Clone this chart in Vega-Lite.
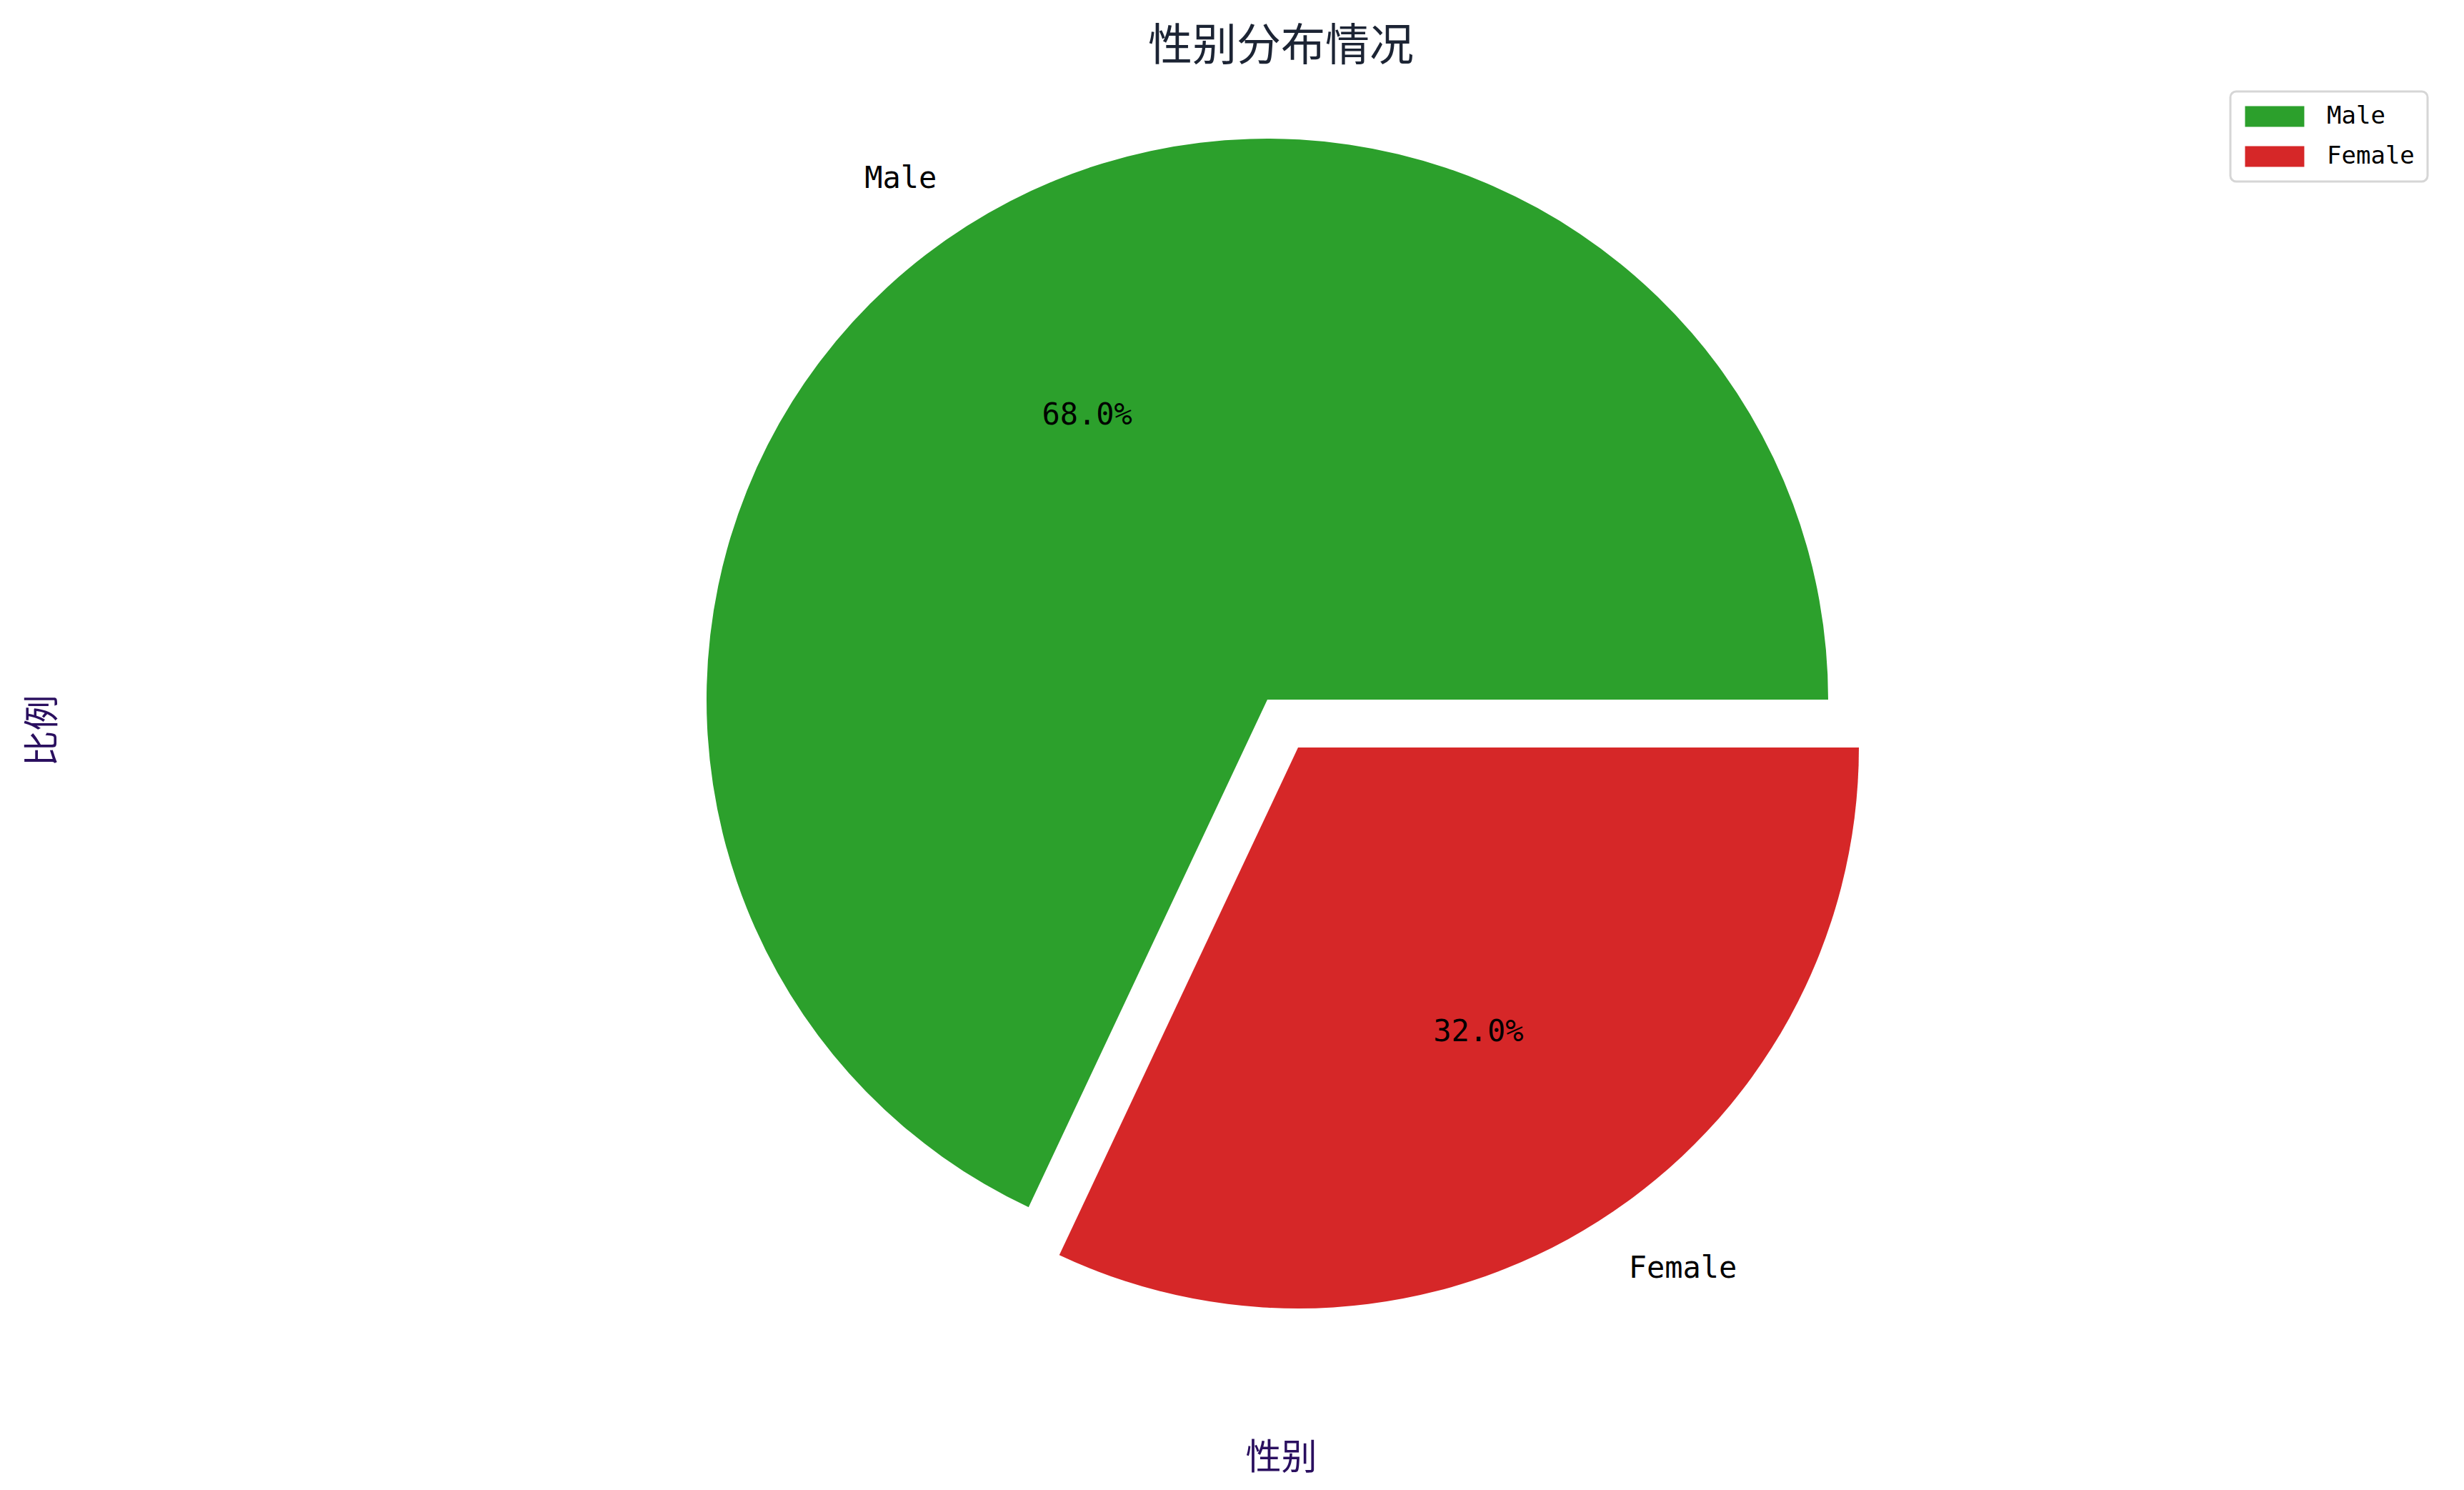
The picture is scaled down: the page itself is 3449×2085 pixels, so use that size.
{
  "$schema": "https://vega.github.io/schema/vega-lite/v6.json",
  "autosize": {"type": "none"},
  "width": 3286,
  "height": 1850,
  "padding": {"left": 150, "top": 97, "right": 13, "bottom": 138},
  "background": "white",
  "config": {
    "view": {"stroke": null},
    "font": "Noto Sans CJK SC",
    "legend": {"strokeWidth": 3}
  },
  "title": {
    "text": "性别分布情况",
    "font": "Noto Sans CJK SC",
    "fontSize": 62,
    "fontWeight": "normal",
    "color": "#1c2434",
    "anchor": "middle",
    "frame": "group",
    "baseline": "alphabetic",
    "offset": -50
  },
  "data": {
    "values": [
      {"Gender": "Male", "Percentage": 0.68},
      {"Gender": "Female", "Percentage": 0.32}
    ]
  },
  "encoding": {
    "theta": {"field": "Percentage", "type": "quantitative", "stack": true, "scale": {"range": [1.5707963, -4.712389]}},
    "order": {"field": "Gender", "sort": "descending"}
  },
  "layer": [
    {
      "mark": {"type": "point", "opacity": 0},
      "encoding": {
        "theta": null,
        "order": null,
        "x": {"field": "Gender", "type": "nominal", "axis": {"title": "性别", "labels": false, "ticks": false, "domain": false, "grid": false, "titleFont": "Noto Sans CJK SC", "titleFontSize": 50, "titleFontWeight": "normal", "titleColor": "#2a0f5f", "titlePadding": 68}},
        "y": {"field": "Percentage", "type": "quantitative", "axis": {"title": "比例", "labels": false, "ticks": false, "domain": false, "grid": false, "titleFont": "Noto Sans CJK SC", "titleFontSize": 50, "titleFontWeight": "normal", "titleColor": "#2a0f5f", "titlePadding": 65}}
      }
    },
    {
      "mark": {"type": "arc", "xOffset": -19, "yOffset": -43, "outerRadius": 785},
      "encoding": {
        "color": {
          "field": "Gender", "type": "nominal",
          "scale": {"domain": ["Male", "Female"], "range": ["#2ca02c", "#d62728"]},
          "legend": {
            "title": null, "orient": "none", "legendX": 2972, "legendY": 31,
            "symbolType": "M-1,-1H4.72V1H-1Z", "symbolSize": 841, "symbolStrokeWidth": 0,
            "labelFont": "DejaVu Sans Mono", "labelFontSize": 34, "labelColor": "black", "labelOffset": 83,
            "padding": 18, "rowPadding": 22, "strokeColor": "#d6d6d6", "fillColor": "white", "cornerRadius": 8
          }
        },
        "opacity": {"condition": {"test": "datum.Gender === 'Male'", "value": 1}, "value": 0}
      }
    },
    {
      "mark": {"type": "arc", "xOffset": 24, "yOffset": 24, "outerRadius": 785},
      "encoding": {
        "color": {"field": "Gender", "type": "nominal", "scale": {"domain": ["Male", "Female"], "range": ["#2ca02c", "#d62728"]}},
        "opacity": {"condition": {"test": "datum.Gender === 'Female'", "value": 1}, "value": 0}
      }
    },
    {
      "mark": {"type": "text", "xOffset": -19, "yOffset": -43, "align": "right", "baseline": "middle", "font": "DejaVu Sans Mono", "fontSize": 42, "color": "black"},
      "encoding": {
        "radius": {"value": 863.5},
        "text": {"condition": {"test": "datum.Gender === 'Male'", "field": "Gender"}, "value": ""}
      }
    },
    {
      "mark": {"type": "text", "xOffset": 24, "yOffset": 24, "align": "left", "baseline": "middle", "font": "DejaVu Sans Mono", "fontSize": 42, "color": "black"},
      "encoding": {
        "radius": {"value": 863.5},
        "text": {"condition": {"test": "datum.Gender === 'Female'", "field": "Gender"}, "value": ""}
      }
    },
    {
      "mark": {"type": "text", "xOffset": -19, "yOffset": -43, "align": "center", "baseline": "middle", "font": "DejaVu Sans Mono", "fontSize": 42, "color": "black"},
      "encoding": {
        "radius": {"value": 471},
        "text": {"condition": {"test": "datum.Gender === 'Male'", "field": "Percentage", "type": "quantitative", "format": ".1%"}, "value": ""}
      }
    },
    {
      "mark": {"type": "text", "xOffset": 24, "yOffset": 24, "align": "center", "baseline": "middle", "font": "DejaVu Sans Mono", "fontSize": 42, "color": "black"},
      "encoding": {
        "radius": {"value": 471},
        "text": {"condition": {"test": "datum.Gender === 'Female'", "field": "Percentage", "type": "quantitative", "format": ".1%"}, "value": ""}
      }
    }
  ]
}
